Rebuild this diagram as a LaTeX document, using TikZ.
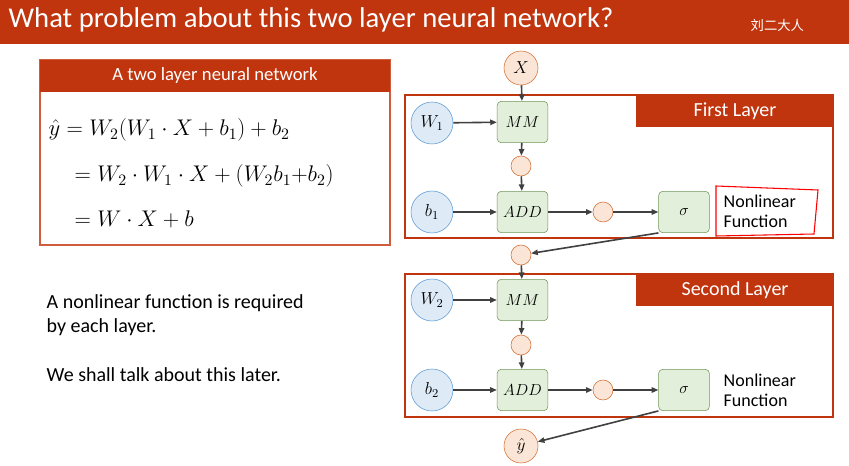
\documentclass[tikz,border=0pt]{standalone}
\usepackage{fix-cm}
\usepackage{fontspec}
\setmainfont{Carlito}
\newfontfamily\cjk{Noto Sans CJK SC}
\usetikzlibrary{arrows.meta}
\definecolor{hred}{RGB}{192,52,14}
\definecolor{bfill}{RGB}{222,235,247}
\definecolor{bdraw}{RGB}{91,155,213}
\definecolor{gfill}{RGB}{226,239,218}
\definecolor{gdraw}{RGB}{112,150,90}
\definecolor{ofill}{RGB}{251,229,214}
\definecolor{odraw}{RGB}{210,110,50}
\definecolor{ln}{RGB}{64,64,64}
\begin{document}
\begin{tikzpicture}[x=0.75pt,y=-0.75pt,
 bc/.style={circle,draw=bdraw,fill=bfill,minimum size=31.5pt,inner sep=0pt,font=\fontsize{13}{13}\selectfont},
 oc/.style={circle,draw=odraw,fill=ofill,minimum size=25.5pt,inner sep=0pt,font=\fontsize{13}{13}\selectfont},
 sc/.style={circle,draw=odraw,fill=ofill,minimum size=15pt,inner sep=0pt},
 gb/.style={rectangle,rounded corners=3pt,draw=gdraw,fill=gfill,minimum width=38pt,minimum height=31pt,inner sep=0pt,font=\fontsize{12}{12}\selectfont},
 ar/.style={-{Triangle[length=5pt,width=4pt]},draw=ln,line width=1.2pt},
 lay/.style={draw=hred,line width=1.5pt},
 tx/.style={anchor=west,font=\fontsize{15}{18}\selectfont,align=left}]
\useasboundingbox (0,0) rectangle (849,466);
\fill[white] (0,0) rectangle (849,466);
\fill[hred] (0,0) rectangle (849,44);
\node[anchor=west,text=white,font=\fontsize{21.5}{22}\selectfont] (title) at (4,20) {What problem about this two layer neural network?};
\node[anchor=west,text=white,font=\cjk\fontsize{10}{10}\selectfont] (wm) at (746,25) {刘二大人};
% left box
\draw[draw=hred!80,line width=0.8pt] (40,60) rectangle (390,245);
\fill[hred] (40,60) rectangle (390,92);
\node[text=white,font=\fontsize{14}{14}\selectfont] (lh) at (215,76) {A two layer neural network};
\node[anchor=west,font=\fontsize{17}{17}\selectfont] (e1) at (44,130) {$\hat{y}=W_2(W_1\cdot X+b_1)+b_2$};
\node[anchor=west,font=\fontsize{17}{17}\selectfont] (e2) at (70,176) {$=W_2\cdot W_1\cdot X+(W_2b_1{+}b_2)$};
\node[anchor=west,font=\fontsize{17}{17}\selectfont] (e3) at (70,219) {$=W\cdot X+b$};
\node[tx] (t1) at (42,315) {A nonlinear function is required\\by each layer.};
\node[tx] (t2) at (42,375) {We shall talk about this later.};
% layer 1
\draw[lay] (405,95) rectangle (833,238);
\fill[hred] (636,95) rectangle (833,127);
\node[text=white,font=\fontsize{15}{15}\selectfont] (h1) at (735,111) {First Layer};
\node[oc] (X) at (521,68) {$X$};
\node[bc] (W1) at (432,123) {$W_1$};
\node[gb] (MM1) at (522.5,122) {$MM$};
\node[sc] (c1) at (521,166) {};
\node[bc] (b1) at (432,212) {$b_1$};
\node[gb] (ADD1) at (522.5,212) {$ADD$};
\node[sc] (c2) at (603,212) {};
\node[gb] (s1) at (684,212) {$\sigma$};
\node[anchor=west,align=left,font=\fontsize{13.5}{15}\selectfont] (n1) at (719,211) {Nonlinear\\Function};
\draw[red,line width=0.8pt] (716,186) -- (818,190) -- (814,234) -- (716,236) -- cycle;
\node[sc] (c3) at (521,255) {};
% layer 2
\draw[lay] (405,274) rectangle (833,417);
\fill[hred] (636,274) rectangle (833,306);
\node[text=white,font=\fontsize{15}{15}\selectfont] (h2) at (735,290) {Second Layer};
\node[bc] (W2) at (432,300) {$W_2$};
\node[gb] (MM2) at (522.5,300) {$MM$};
\node[sc] (c4) at (521,345) {};
\node[bc] (b2) at (432,390) {$b_2$};
\node[gb] (ADD2) at (522.5,390) {$ADD$};
\node[sc] (c5) at (603,390) {};
\node[gb] (s2) at (684,390) {$\sigma$};
\node[anchor=west,align=left,font=\fontsize{13.5}{15}\selectfont] (n2) at (719,390) {Nonlinear\\Function};
\node[oc] (yh) at (521,446) {$\hat{y}$};
% arrows
\draw[ar] (X) -- (MM1);
\draw[ar] (W1) -- (MM1);
\draw[ar] (MM1) -- (c1);
\draw[ar] (c1) -- (ADD1);
\draw[ar] (b1) -- (ADD1);
\draw[ar] (ADD1) -- (c2);
\draw[ar] (c2) -- (s1);
\draw[ar] (s1.south west) -- (c3);
\draw[ar] (c3) -- (MM2);
\draw[ar] (W2) -- (MM2);
\draw[ar] (MM2) -- (c4);
\draw[ar] (c4) -- (ADD2);
\draw[ar] (b2) -- (ADD2);
\draw[ar] (ADD2) -- (c5);
\draw[ar] (c5) -- (s2);
\draw[ar] (s2.south west) -- (yh);
\end{tikzpicture}
\end{document}
